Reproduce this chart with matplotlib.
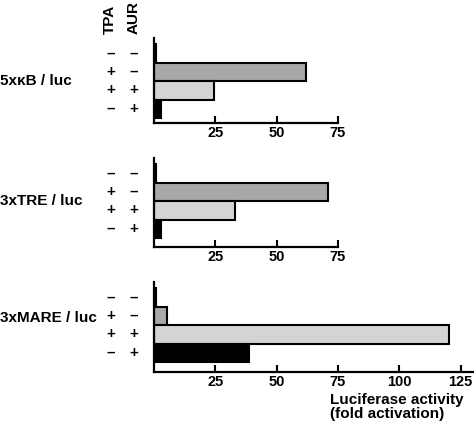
import matplotlib.pyplot as plt
import matplotlib.transforms as mtransforms

plt.rcParams['font.family'] = ['Liberation Sans', 'DejaVu Sans']
plt.rcParams['font.weight'] = 'bold'

constructs = ["5xκB / luc", "3xTRE / luc", "3xMARE / luc"]
tpa = ["–", "+", "+", "–"]
aur = ["–", "–", "+", "+"]
values_kb = [1.0, 62, 24.5, 3.0]
values_tre = [1.0, 71, 33, 3.0]
values_mare = [1.0, 5.5, 120.5, 38.8]
bar_colors = ["black", "#a8a8a8", "#d4d4d4", "black"]

fig = plt.figure(figsize=(4.74, 4.25), dpi=100)
W, H = 474, 425

# panel boxes in pixels: top, bottom, xmax, ticks
panels = [
    (values_kb, 38, 123, 75, [25, 50, 75]),
    (values_tre, 158, 247, 75, [25, 50, 75]),
    (values_mare, 282, 372, 130, [25, 50, 75, 100, 125]),
]
px_per_unit = 61.3 / 25
x0 = 154

for i, (vals, top, bottom, xmax, ticks) in enumerate(panels):
    width_px = xmax * px_per_unit
    ax = fig.add_axes([x0 / W, 1 - bottom / H, width_px / W, (bottom - top) / H])
    ypos = [3, 2, 1, 0]
    ax.barh(ypos, vals, height=1.0, color=bar_colors, edgecolor="black", linewidth=1.5)
    ax.set_xlim(0, xmax)
    # bars fill about 18.5 px each
    unit = 18.5
    span = (bottom - top) / unit
    gap_top = 6 / unit
    ax.set_ylim(3.5 + gap_top - span, 3.5 + gap_top)
    ax.spines[["top", "right"]].set_visible(False)
    for s in ["left", "bottom"]:
        ax.spines[s].set_linewidth(1.6)
    ax.set_yticks([])
    ax.set_xticks(ticks)
    ax.set_xticklabels([str(t) for t in ticks], fontsize=10.5, fontweight="bold")
    ax.tick_params(axis="x", direction="in", length=5, width=1.5, pad=2)

    trans = mtransforms.blended_transform_factory(fig.transFigure, ax.transData)
    for y, a, b in zip(ypos, tpa, aur):
        ax.text(111 / W, y, a, transform=trans, ha="center", va="center",
                fontsize=11, fontweight="bold")
        ax.text(134 / W, y, b, transform=trans, ha="center", va="center",
                fontsize=11, fontweight="bold")
    label_y = 1.5 if i < 2 else 1.9
    ax.text(0 / W, label_y, constructs[i], transform=trans, ha="left", va="center",
            fontsize=11, fontweight="bold")

fig.text(110 / W, 1 - 34 / H, "TPA", rotation=90, ha="center", va="bottom",
         fontsize=11, fontweight="bold")
fig.text(134 / W, 1 - 34 / H, "AUR", rotation=90, ha="center", va="bottom",
         fontsize=11, fontweight="bold")
fig.text(330 / W, 1 - 393 / H, "Luciferase activity\n(fold activation)",
         ha="left", va="top", fontsize=11, fontweight="bold", linespacing=1.0)

fig.savefig("out.png", dpi=100)
